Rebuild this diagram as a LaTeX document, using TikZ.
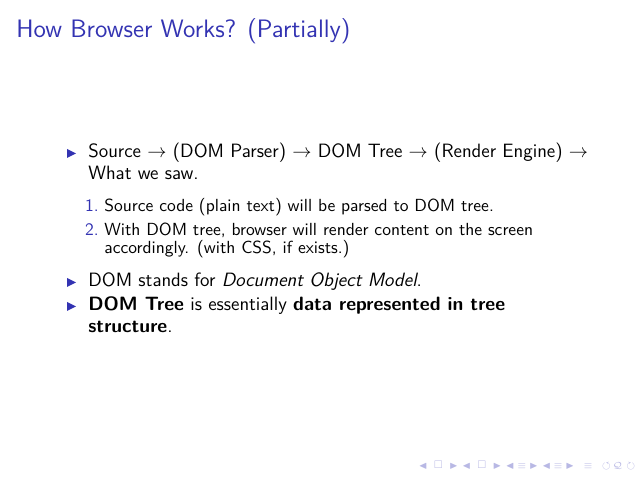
\documentclass[tikz,border=0pt]{standalone}
\usepackage{amssymb}
\definecolor{struct}{rgb}{0.2,0.2,0.7}
\begin{document}
\begin{tikzpicture}[x=0.02006cm,y=-0.02006cm,
  txt/.style={anchor=base west,inner sep=0pt,font=\sffamily\fontsize{11}{13}\selectfont},
  sub/.style={anchor=base west,inner sep=0pt,font=\sffamily\fontsize{10}{12}\selectfont},
  tri/.style={fill=struct}]
\useasboundingbox (0,0) rectangle (638,479);
\node[anchor=base west,inner sep=0pt,text=struct,font=\sffamily\fontsize{14.4}{17}\selectfont] (title) at (16,38) {How Browser Works? (Partially)};
\fill[struct] (67,149) -- (76,153.5) -- (67,158) -- cycle;
\node[txt] (l1) at (88,158) {Source $\rightarrow$ (DOM Parser) $\rightarrow$ DOM Tree $\rightarrow$ (Render Engine) $\rightarrow$};
\node[txt] (l2) at (88,180) {What we saw.};
\node[sub,anchor=base east,text=struct] (n1) at (99,212) {1.};
\node[sub] (s1) at (104,212) {Source code (plain text) will be parsed to DOM tree.};
\node[sub,anchor=base east,text=struct] (n2) at (99,236) {2.};
\node[sub] (s2) at (104,236) {With DOM tree, browser will render content on the screen};
\node[sub] (s3) at (104,254) {accordingly. (with CSS, if exists.)};
\fill[struct] (67,278) -- (76,282.5) -- (67,287) -- cycle;
\node[txt] (l3) at (88,287) {DOM stands for \textit{Document Object Model}.};
\fill[struct] (67,302) -- (76,306.5) -- (67,311) -- cycle;
\node[txt] (l4) at (88,311) {\textbf{DOM Tree} is essentially \textbf{data represented in tree}};
\node[txt] (l5) at (88,333) {\textbf{structure}.};
\node[inner sep=0pt,font=\tiny,text=struct!35] (nav) at (527,466) {$\blacktriangleleft\,\square\,\blacktriangleright\;\blacktriangleleft\,\square\,\blacktriangleright\;\blacktriangleleft\,\equiv\,\blacktriangleright\;\blacktriangleleft\,\equiv\,\blacktriangleright\quad\equiv\quad\circlearrowleft\!\mathcal{Q}\circlearrowright$};
\end{tikzpicture}
\end{document}
